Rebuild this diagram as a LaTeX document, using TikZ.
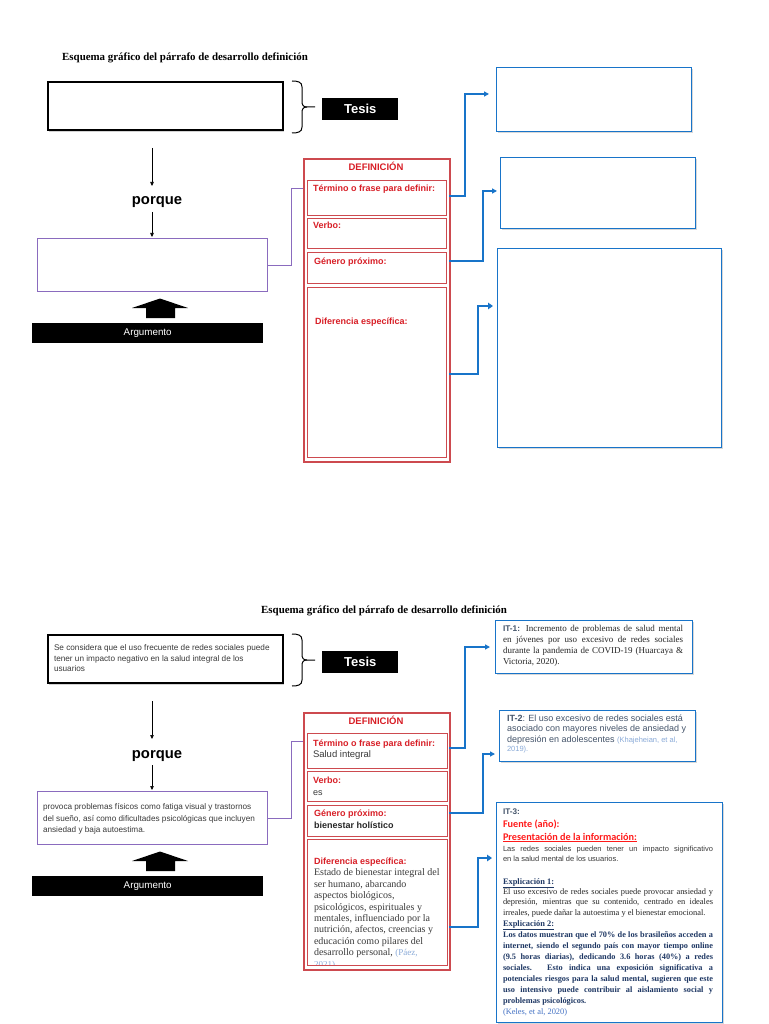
\documentclass[tikz,border=0pt]{standalone}
\usepackage{fontspec}
\setmainfont{Liberation Serif}
\setsansfont{Liberation Sans}
\newfontfamily\calfont{Carlito}
\usetikzlibrary{arrows.meta,shadows}
\definecolor{redB}{HTML}{CD4A4F}
\definecolor{redT}{HTML}{D81E26}
\definecolor{blueB}{HTML}{1874C9}
\definecolor{purp}{HTML}{8A6BBE}
\definecolor{slate}{HTML}{44546A}
\definecolor{navy}{HTML}{1F3864}
\definecolor{cite}{HTML}{8AAAD8}
\definecolor{citeB}{HTML}{4472C4}
\definecolor{tgray}{HTML}{3A3A3A}
\definecolor{brightred}{HTML}{FF1A1A}
\newlength\lw
\newcommand\JL[1]{\hbox to\lw{#1}}
\newcommand\LL[1]{\hbox{#1}}
\newcommand\fs[2]{\fontsize{#1}{#2}\selectfont}
\begin{document}
\begin{tikzpicture}[x=1pt,y=-1pt,
  txt/.style={anchor=base west, inner sep=0pt, outer sep=0pt},
  ttl/.style={anchor=base, inner sep=0pt, font=\bfseries\fs{10.9}{13}},
  thbox/.style={draw=black, line width=1.6pt, fill=white, anchor=north west, inner sep=0pt,
    drop shadow={shadow xshift=1pt, shadow yshift=-2pt, opacity=.35}},
  blk/.style={fill=black, anchor=north west, inner sep=0pt, text=white},
  pbox/.style={draw=purp, line width=1.2pt, fill=white, anchor=north west, inner sep=0pt},
  rout/.style={draw=redB, line width=1.6pt, anchor=north west, inner sep=0pt},
  rin/.style={draw=redB, line width=1pt, anchor=north west, inner sep=0pt},
  bbox/.style={draw=blueB, line width=1.4pt, fill=white, anchor=north west, inner sep=0pt,
    drop shadow={shadow xshift=1.5pt, shadow yshift=-1.5pt, opacity=.3}},
  pq/.style={anchor=base, inner sep=0pt, font=\sffamily\bfseries\fs{14.8}{16}},
  deft/.style={anchor=base, inner sep=0pt, text=redT, font=\sffamily\bfseries\fs{9.5}{11}},
  lab/.style={txt, text=redT, font=\sffamily\bfseries\fs{9}{11}},
  brc/.style={line width=1pt},
  arr/.style={-{Triangle[length=4pt,width=3.5pt]}, line width=0.6pt},
  purpconn/.style={draw=purp, line width=0.8pt},
  blconn/.style={draw=blueB, line width=1.5pt, -{Triangle[length=5pt,width=5pt]}},
  blconnT/.style={draw=blueB, line width=2.8pt, -{Triangle[length=5pt,width=6.5pt]}}
]
\useasboundingbox (0,0) rectangle (768,1024);
\fill[white] (0,0) rectangle (768,1024);

%================ TOP =================
\node[ttl] (ti1) at (185,60.5) {Esquema gráfico del párrafo de desarrollo definición};
\node[thbox, minimum width=235, minimum height=48] (th1) at (47,81) {};
\draw[brc] (292,81) .. controls (298,81) and (302,82) .. (302,87) -- (302,101)
  .. controls (302,105) and (303,107) .. (307,107) -- (315,107);
\draw[brc] (307,107) .. controls (303,107) and (302,109) .. (302,113) -- (302,127)
  .. controls (302,132) and (298,133) .. (292,133);
\node[blk, minimum width=76, minimum height=22, font=\sffamily\bfseries\fs{13}{15}] (ts1) at (322,98) {Tesis};
\coordinate (a1s) at (152,148); \coordinate (a1e) at (152,186);
\coordinate (a2s) at (152,212); \coordinate (a2e) at (152,237);
\draw[arr] (a1s) -- (a1e);
\node[pq] (pq1) at (157,205) {porque};
\draw[arr] (a2s) -- (a2e);
\node[pbox, minimum width=230, minimum height=53] (pb1) at (37,238) {};
\fill (132,308) -- (160,298.5) -- (188,308) -- (175,308) -- (175,318) -- (146,318) -- (146,308) -- cycle;
\node[blk, minimum width=231, minimum height=20, font=\sffamily\fs{9.8}{12}] (ag1) at (32,323) {Argumento};

\node[rout, minimum width=146, minimum height=303] (do1) at (303,158) {};
\node[deft] (dt1) at (376,170.4) {DEFINICIÓN};
\node[rin, minimum width=139, minimum height=35] (t1) at (307,180) {};
\node[rin, minimum width=139, minimum height=30] (v1) at (307,218) {};
\node[rin, minimum width=139, minimum height=31] (g1) at (307,252) {};
\node[rin, minimum width=139, minimum height=170] (d1) at (307,287) {};
\node[lab] (tl1) at (313,191.5) {Término o frase para definir:};
\node[lab] (vl1) at (313,229) {Verbo:};
\node[lab] (gl1) at (314,264) {Género próximo:};
\node[lab] (dl1) at (315,324.3) {Diferencia específica:};

\coordinate (pj1) at (291,188);
\draw[purpconn] (pb1.east) -| (pj1) -- (pj1 -| do1.west);

\node[bbox, minimum width=195, minimum height=64] (b1) at (496,67) {};
\node[bbox, minimum width=195, minimum height=71] (b2) at (500,157) {};
\node[bbox, minimum width=224, minimum height=199] (b3) at (497,248) {};

\coordinate (s1) at (449,196); \coordinate (k1) at (465,94); \coordinate (e1) at (489,94);
\coordinate (s2) at (449,261); \coordinate (k2) at (483,191); \coordinate (e2) at (497,191);
\coordinate (s3) at (449,374); \coordinate (k3) at (478,306); \coordinate (e3) at (493,306);
\draw[blconn] (s1) -| (k1) -- (e1);
\draw[blconn] (s2) -| (k2) -- (e2);
\draw[blconnT] (s3) -| (k3) -- (e3);

%================ BOTTOM =================
\node[ttl] (ti2) at (384,613.5) {Esquema gráfico del párrafo de desarrollo definición};
\node[thbox, minimum width=235, minimum height=48] (th2) at (47,634) {};
\node[txt, text=tgray, font=\sffamily\fs{8.2}{10.8}] (tht2) at (54,650.2) {\vtop{%
  \LL{Se considera que el uso frecuente de redes sociales puede}
  \LL{tener un impacto negativo en la salud integral de los}
  \LL{usuarios}}};
\draw[brc] (292,634) .. controls (298,634) and (302,635) .. (302,640) -- (302,654)
  .. controls (302,658) and (303,660) .. (307,660) -- (315,660);
\draw[brc] (307,660) .. controls (303,660) and (302,662) .. (302,666) -- (302,680)
  .. controls (302,685) and (298,686) .. (292,686);
\node[blk, minimum width=76, minimum height=22, font=\sffamily\bfseries\fs{13}{15}] (ts2) at (322,651) {Tesis};
\coordinate (a3s) at (152,701); \coordinate (a3e) at (152,739);
\coordinate (a4s) at (152,765); \coordinate (a4e) at (152,790);
\draw[arr] (a3s) -- (a3e);
\node[pq] (pq2) at (157,758) {porque};
\draw[arr] (a4s) -- (a4e);
\node[pbox, minimum width=230, minimum height=53] (pb2) at (37,791) {};
\node[txt, text=tgray, font=\sffamily\fs{8.2}{11.6}] (pbt2) at (43,809.5) {\vtop{%
  \LL{provoca problemas físicos como fatiga visual y trastornos}
  \LL{del sueño, así como dificultades psicológicas que incluyen}
  \LL{ansiedad y baja autoestima.}}};
\fill (132,861) -- (160,851.5) -- (188,861) -- (175,861) -- (175,871) -- (146,871) -- (146,861) -- cycle;
\node[blk, minimum width=231, minimum height=20, font=\sffamily\fs{9.8}{12}] (ag2) at (32,876) {Argumento};

\node[rout, minimum width=146, minimum height=257] (do2) at (303,712) {};
\node[deft] (dt2) at (376,724.4) {DEFINICIÓN};
\node[rin, minimum width=140, minimum height=35] (t2) at (307,733) {};
\node[rin, minimum width=140, minimum height=30] (v2) at (307,771) {};
\node[rin, minimum width=140, minimum height=31] (g2) at (307,805) {};
\node[rin, minimum width=140, minimum height=126] (d2) at (307,839) {};
\node[lab] (tl2) at (313,746.3) {Término o frase para definir:};
\node[txt, text=tgray, font=\sffamily\fs{9.5}{11}] (tv2) at (313,757) {Salud integral};
\node[lab] (vl2) at (313,783.3) {Verbo:};
\node[txt, text=tgray, font=\sffamily\fs{9}{11}] (vv2) at (313,795.2) {es};
\node[lab] (gl2) at (314,816.2) {Género próximo:};
\node[txt, text=black!85, font=\sffamily\bfseries\fs{9}{11}] (gv2) at (314,828.6) {bienestar holístico};
\node[lab] (dl2) at (314,864) {Diferencia específica:};
\begin{scope}
\clip (307.5,839.5) rectangle (446.5,964.5);
\node[txt, text=tgray, font=\fs{10}{11.4}] (dv2) at (314,875.8) {\vtop{%
  \LL{Estado de bienestar integral del}
  \LL{ser humano, abarcando}
  \LL{aspectos biológicos,}
  \LL{psicológicos, espirituales y}
  \LL{mentales, influenciado por la}
  \LL{nutrición, afectos, creencias y}
  \LL{educación como pilares del}
  \LL{desarrollo personal, {\color{cite}\fs{9}{11}(Páez,}}
  \LL{{\color{cite}\fs{9}{11}2021)}}}};
\end{scope}

\coordinate (pj2) at (291,741);
\draw[purpconn] (pb2.east) -| (pj2) -- (pj2 -| do2.west);

\node[bbox, minimum width=197, minimum height=53] (b4) at (495,620) {};
\node[bbox, minimum width=196, minimum height=51] (b5) at (499,710) {};
\node[bbox, minimum width=226, minimum height=220] (b6) at (496,802) {};

\coordinate (s4) at (449,748); \coordinate (k4) at (465,647); \coordinate (e4) at (490,647);
\coordinate (s5) at (449,813); \coordinate (k5) at (483,754); \coordinate (e5) at (495,754);
\coordinate (s6) at (449,927); \coordinate (k6) at (478,858); \coordinate (e6) at (492,858);
\draw[blconn] (s4) -| (k4) -- (e4);
\draw[blconn] (s5) -| (k5) -- (e5);
\draw[blconnT] (s6) -| (k6) -- (e6);

% IT-1
\node[txt, text=black!85, font=\fs{9}{10.9}] (it1) at (503,631.3) {\setlength\lw{180pt}\vtop{%
  \JL{{\sffamily\bfseries\fs{8.3}{9}\color{slate}IT-1:} Incremento de problemas de salud mental}
  \JL{en jóvenes por uso excesivo de redes sociales}
  \JL{durante la pandemia de COVID-19 (Huarcaya \&}
  \LL{Victoria, 2020).}}};
% IT-2
\node[txt, text=slate, font=\sffamily\fs{9}{10.5}] (it2) at (507,721.3) {\vtop{%
  \LL{\textbf{IT-2}: El uso excesivo de redes sociales está}
  \LL{asociado con mayores niveles de ansiedad y}
  \LL{depresión en adolescentes {\color{cite}\fs{7.5}{9}(Khajeheian, et al,}}
  \baselineskip=9.5pt
  \LL{{\color{cite}\fs{7.5}{9}2019).}}}};
% IT-3
\node[txt, text=slate, font=\sffamily\bfseries\fs{8.2}{9}] (it3a) at (503,814.6) {IT-3:};
\node[txt, text=brightred, font=\calfont\bfseries\fs{10.2}{12}] (it3b) at (503,827.8) {Fuente (año):};
\node[txt, text=brightred, font=\calfont\bfseries\fs{10.2}{12}] (it3c) at (503,840.2) {\underline{Presentación de la información:}};
\node[txt, text=tgray, font=\sffamily\fs{7.5}{10}] (it3d) at (503,851) {\setlength\lw{210pt}\vtop{%
  \JL{Las redes sociales pueden tener un impacto significativo}
  \LL{en la salud mental de los usuarios.}}};
\node[txt, text=navy, font=\bfseries\fs{8.4}{10}] (it3e) at (503,884) {\underline{Explicación 1:}};
\node[txt, text=black!85, font=\fs{8.4}{10.3}] (it3f) at (503,894.6) {\setlength\lw{210pt}\vtop{%
  \JL{El uso excesivo de redes sociales puede provocar ansiedad y}
  \JL{depresión, mientras que su contenido, centrado en ideales}
  \LL{irreales, puede dañar la autoestima y el bienestar emocional.}}};
\node[txt, text=navy, font=\bfseries\fs{8.4}{10}] (it3g) at (503,926) {\underline{Explicación 2:}};
\node[txt, text=navy, font=\bfseries\fs{8.3}{11.07}] (it3h) at (503,937.2) {\setlength\lw{210pt}\vtop{%
  \JL{Los datos muestran que el 70\% de los brasileños acceden a}
  \JL{internet, siendo el segundo país con mayor tiempo online}
  \JL{(9.5 horas diarias), dedicando 3.6 horas (40\%) a redes}
  \JL{sociales. Esto indica una exposición significativa a}
  \JL{potenciales riesgos para la salud mental, sugieren que este}
  \JL{uso intensivo puede contribuir al aislamiento social y}
  \LL{problemas psicológicos.}}};
\node[txt, text=citeB, font=\fs{8.4}{10}] (it3i) at (503,1014.5) {(Keles, et al, 2020)};
\end{tikzpicture}
\end{document}
